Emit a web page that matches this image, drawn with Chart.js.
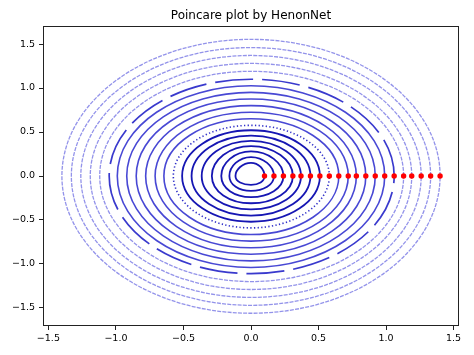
<!DOCTYPE html>
<html>
<head>
<meta charset="utf-8">
<script src="https://cdn.jsdelivr.net/npm/chart.js@4.4.0/dist/chart.umd.min.js"></script>
<style>
  html, body { margin: 0; padding: 0; background: #fff; }
</style>
</head>
<body>
<canvas id="poincare" width="474" height="355"></canvas>
<script>
// start points on the x axis (red dots); each orbit passes through (x, 0)
const startX = [0.10, 0.17, 0.24, 0.31, 0.37, 0.44, 0.51, 0.58, 0.65, 0.72,
                0.78, 0.85, 0.92, 0.99, 1.06, 1.13, 1.19, 1.26, 1.33, 1.40];
// where each orbit crosses the negative x axis
const leftX = [-0.115, -0.16, -0.22, -0.29, -0.365, -0.44, -0.51, -0.575, -0.645, -0.71,
               -0.78, -0.85, -0.92, -0.99, -1.05, -1.12, -1.19, -1.26, -1.33, -1.40];
// where each orbit crosses the y axis, above and below
const topY = [0.15, 0.215, 0.28, 0.34, 0.40, 0.46, 0.52, 0.576, 0.65, 0.725,
              0.80, 0.875, 0.95, 1.025, 1.10, 1.19, 1.28, 1.37, 1.46, 1.553];
const bottomY = [-0.10, -0.17, -0.24, -0.31, -0.38, -0.45, -0.52, -0.59, -0.665, -0.74,
                 -0.815, -0.89, -0.965, -1.04, -1.11, -1.20, -1.29, -1.38, -1.47, -1.56];

const xTicks = [-1.5, -1.0, -0.5, 0.0, 0.5, 1.0, 1.5];
const yTicks = [-1.5, -1.0, -0.5, 0.0, 0.5, 1.0, 1.5];
const xRange = [-1.54, 1.54];
const yRange = [-1.705, 1.705];

const FONT = "'DejaVu Sans', 'Liberation Sans', sans-serif";

function fmt(v) {
  return (v < 0 ? '\u2212' : '') + Math.abs(v).toFixed(1);
}

// one closed orbit through its four axis crossings, wrapped so the
// spline gets proper tangents all the way round (first/last piece hidden)
function orbitData(i) {
  const R = () => ({ x: startX[i], y: 0 });
  const T = () => ({ x: 0, y: topY[i] });
  const L = () => ({ x: leftX[i], y: 0 });
  const B = () => ({ x: 0, y: bottomY[i] });
  return [B(), R(), T(), L(), B(), R(), T()];
}

function orbitStyle(i) {
  if (i === 7) return { color: 'rgba(25,25,195,0.9)', width: 1.6, dash: [1.3, 2.3] };
  if (i === 14) return { color: 'rgba(35,35,200,0.9)', width: 1.7, dash: [38, 9] };
  if (i <= 6) return { color: 'rgba(10,10,175,0.95)', width: 1.8, dash: [] };
  if (i <= 13) return { color: 'rgba(40,40,205,0.85)', width: 1.6, dash: [] };
  return { color: 'rgba(75,75,220,0.6)', width: 1.3, dash: [4, 1.2] };
}

const datasets = [{
  label: 'start',
  data: startX.map(x => ({ x: x, y: 0 })),
  showLine: false,
  pointRadius: 2.7,
  pointBackgroundColor: '#ff0000',
  pointBorderWidth: 0
}];

startX.forEach((x0, i) => {
  const s = orbitStyle(i);
  datasets.push({
    label: 'orbit ' + i,
    data: orbitData(i),
    showLine: true,
    tension: 0.55,
    borderColor: s.color,
    borderWidth: s.width,
    borderDash: s.dash,
    pointRadius: 0,
    segment: {
      borderColor: ctx => (ctx.p0DataIndex === 0 || ctx.p0DataIndex === 5) ? 'rgba(0,0,0,0)' : undefined
    }
  });
});

const frame = {
  id: 'frame',
  afterDatasetsDraw(chart) {
    const { ctx, chartArea: a } = chart;
    ctx.save();
    ctx.strokeStyle = '#222';
    ctx.lineWidth = 1;
    ctx.strokeRect(Math.round(a.left) + 0.5, Math.round(a.top) + 0.5,
                   Math.round(a.right - a.left) - 1, Math.round(a.bottom - a.top) - 1);
    ctx.restore();
  }
};

const ctx = document.getElementById('poincare').getContext('2d');
new Chart(ctx, {
  type: 'scatter',
  data: { datasets: datasets },
  plugins: [frame],
  options: {
    responsive: false,
    devicePixelRatio: 1,
    animation: false,
    layout: { padding: { left: 0, right: 15, top: 0, bottom: 0 } },
    plugins: {
      legend: { display: false },
      tooltip: { enabled: false },
      title: {
        display: true,
        text: 'Poincare plot by HenonNet',
        fullSize: false,
        color: '#000',
        font: { family: FONT, size: 12, weight: 'normal' },
        padding: { top: 9, bottom: 2.6 }
      }
    },
    scales: {
      x: {
        type: 'linear',
        min: xRange[0],
        max: xRange[1],
        afterBuildTicks: s => { s.ticks = xTicks.map(v => ({ value: v })); },
        afterFit: s => { s.height = 29; },
        grid: { display: true, drawOnChartArea: false, drawTicks: true, tickLength: 4, color: '#222' },
        border: { display: false },
        ticks: {
          color: '#000',
          padding: 3,
          maxRotation: 0,
          font: { family: FONT, size: 9.5 },
          callback: v => fmt(v)
        }
      },
      y: {
        type: 'linear',
        min: yRange[0],
        max: yRange[1],
        afterBuildTicks: s => { s.ticks = yTicks.map(v => ({ value: v })); },
        afterFit: s => { s.width = 43; },
        grid: { display: true, drawOnChartArea: false, drawTicks: true, tickLength: 4, color: '#222' },
        border: { display: false },
        ticks: {
          color: '#000',
          padding: 4,
          font: { family: FONT, size: 9.5 },
          callback: v => fmt(v)
        }
      }
    }
  }
});
</script>
</body>
</html>
